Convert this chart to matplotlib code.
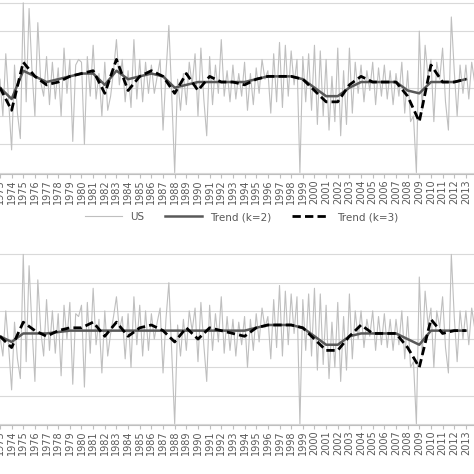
import numpy as np
import matplotlib
matplotlib.use("Agg")
import matplotlib.pyplot as plt

years = list(range(1973, 2014))
us_top = [0.3,-1.0,1.2,-0.5, -2.2,0.8,-0.9,-1.8, 3.0,-0.5,2.8,0.6, -1.0,2.3,0.2,-0.3,
 1.1,-0.6,0.9,-0.4, 0.7,-1.0,1.4,-0.2, 1.0,-1.9,0.8,1.0, 0.9,-2.0,1.1,-0.3,
 1.5,-0.4,0.5,-1.0, 0.9,-0.8,-0.3,0.6, 1.7,0.1,1.0,-0.5, 0.6,-0.7,1.7,-0.4,
 1.0,-0.5,0.9,-0.2, 0.8,-0.2,0.4,1.0, -1.5,0.5,2.2,-0.3, -3.0,0.3,-0.8,0.5,
 -0.6,0.9,0.1,1.2, -1.0,1.4,-0.4,-1.7, 1.1,-0.6,0.8,-0.2, 1.7,-0.3,0.6,-0.5,
 0.8,-0.4,0.5,-0.3, 0.9,-0.8,0.5,-0.6, 0.7,-0.2,1.0,0.3, 0.6,-0.9,1.2,-0.5,
 1.6,-0.7,1.5,-0.3, 1.3,0.1,1.0,-3.0, 1.1,-0.5,1.2,-0.8, 1.5,-1.3,1.3,-1.0,
 1.0,-1.5,0.4,-1.2, 1.4,-1.7,0.6,-1.3, 1.4,-0.9,0.9,-0.2, 0.8,-0.5,0.6,-0.1,
 0.9,-0.6,0.7,-0.3, 0.8,-0.4,0.6,-0.6, 0.5,-0.3,0.9,-0.9, 0.6,-1.2,-1.0,-3.0,
 2.0,-0.8,1.5,0.4, 1.0,-1.2,0.9,0.3, 1.4,-0.5,-1.5,2.5, 0.6,-1.0,0.8,-0.2,
 0.8,-0.4,0.9,0.2]
us_bot = [0.1,-0.6,1.0,-0.3, -1.8,0.6,-0.7,-1.4, 3.0,-0.8,2.6,0.4, -1.5,2.1,0.3,-0.6,
 1.4,-0.4,1.0,-0.5, 0.9,-1.3,1.2,0.0, 1.3,-1.6,0.9,0.8, 1.2,-1.7,1.3,-0.5,
 1.8,-0.2,0.7,-1.2, 1.0,-0.6,0.2,0.8, 1.5,0.3,0.8,-0.7, 0.9,-1.0,1.5,-0.2,
 1.2,-0.6,1.0,-0.4, 0.9,0.0,0.6,1.1, -1.2,0.7,2.0,-0.5, -3.0,0.5,-0.6,0.7,
 -0.4,1.0,0.3,1.1, -0.8,1.3,-0.2,-1.5, 1.2,-0.4,0.9,-0.1, 1.5,-0.5,0.8,-0.4,
 0.7,-0.6,0.6,-0.2, 0.8,-1.0,0.7,-0.4, 0.9,-0.1,1.1,0.4, 0.8,-0.7,1.4,-0.3,
 1.9,-0.6,1.7,-0.2, 1.6,0.2,1.5,-3.0, 1.4,-0.4,1.6,-0.6, 1.8,-1.1,1.6,-0.9,
 1.2,-1.4,0.6,-1.0, 1.3,-1.5,0.8,-1.1, 1.6,-0.7,1.0,0.0, 1.0,-0.3,0.7,0.1,
 1.0,-0.4,0.8,-0.2, 0.9,-0.3,0.7,-0.4, 0.7,-0.2,1.0,-0.7, 0.8,-1.0,-0.8,-3.0,
 2.2,-0.6,1.7,0.5, 1.1,-1.0,1.0,0.4, 1.5,-0.3,-1.2,3.0, 0.8,-0.8,1.0,0.0,
 1.0,-0.2,1.1,0.4]
trend2_top = [0.0,-0.4,0.6,0.4,0.2,0.3,0.4,0.5,0.5,0.1,0.6,0.3,0.4,0.5,0.4,0.0,0.1,0.2,0.2,0.2,0.2,
 0.2,0.3,0.4,0.4,0.4,0.3,0.0,-0.3,-0.3,0.0,0.2,0.2,0.2,0.2,-0.1,-0.2,0.2,0.2,0.2,0.3]
trend3_top = [0.0,-0.8,0.9,0.4,0.1,0.2,0.4,0.5,0.6,-0.2,1.0,-0.1,0.4,0.6,0.4,-0.2,0.5,-0.1,0.4,0.2,0.2,
 0.1,0.3,0.4,0.4,0.4,0.3,-0.1,-0.5,-0.5,0.1,0.4,0.2,0.2,0.2,-0.3,-1.2,0.8,0.2,0.2,0.3]
trend2_bot = [0.1,-0.1,0.2,0.2,0.2,0.25,0.3,0.3,0.3,0.3,0.3,0.3,0.3,0.3,0.3,0.3,0.3,0.3,0.3,0.3,0.3,
 0.3,0.4,0.5,0.5,0.5,0.4,0.1,-0.2,-0.2,0.1,0.2,0.2,0.2,0.2,0.0,-0.2,0.3,0.3,0.3,0.3]
trend3_bot = [0.1,-0.3,0.6,0.3,0.1,0.3,0.4,0.4,0.6,0.1,0.6,0.1,0.4,0.5,0.3,-0.1,0.4,0.0,0.4,0.3,0.2,
 0.1,0.4,0.5,0.5,0.5,0.4,0.0,-0.4,-0.4,0.1,0.5,0.2,0.2,0.2,-0.3,-1.0,0.7,0.2,0.3,0.3]

xq = years[0] + np.arange(len(us_top)) / 4.0

fig = plt.figure(figsize=(4.74, 4.74), dpi=100)
axes = [fig.add_axes([-0.005, 0.633, 1.01, 0.367]), fig.add_axes([-0.005, 0.103, 1.01, 0.39])]
ylims = [(-3.05, 3.1), (-3.05, 3.5)]
data = [(us_top, trend2_top, trend3_top), (us_bot, trend2_bot, trend3_bot)]
for ax, yl, (us, t2, t3) in zip(axes, ylims, data):
    ax.plot(xq, us, color="#bfbfbf", lw=0.8, label="US")
    ax.plot(years, t2, color="#595959", lw=1.8, label="Trend (k=2)")
    ax.plot(years, t3, color="black", lw=2.0, ls=(0, (3, 1.5)), label="Trend (k=3)")
    ax.set_xlim(1972.8, 2013.9)
    ax.set_ylim(*yl)
    ax.set_yticks(range(-3, 4))
    ax.set_yticklabels([])
    ax.tick_params(axis="y", length=0)
    ax.grid(axis="y", color="#d9d9d9", lw=0.8)
    ax.set_axisbelow(True)
    ax.set_xticks(years)
    ax.set_xticklabels([str(y) for y in years], rotation=90, fontsize=7, color="#595959")
    ax.tick_params(axis="x", length=3, color="#bfbfbf", pad=1)
    for s in ["top", "right", "left"]:
        ax.spines[s].set_visible(False)
    ax.spines["bottom"].set_color("#bfbfbf")

h, l = axes[0].get_legend_handles_labels()
fig.legend(h, l, loc="center", bbox_to_anchor=(0.51, 1 - 217 / 474), ncol=3, frameon=False,
           fontsize=7.5, labelcolor="#595959", handlelength=3.5, columnspacing=2.0)
fig.savefig("out.png", dpi=100)
